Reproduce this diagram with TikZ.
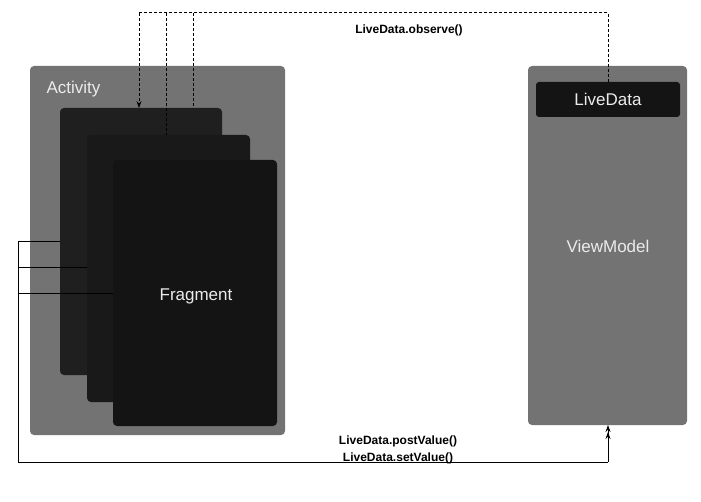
\documentclass[tikz,border=0pt]{standalone}
\usepackage{fontspec}
\setmainfont{Liberation Sans}
\usetikzlibrary{arrows.meta}
\tikzset{mytip/.tip={Stealth[length=7pt,width=5pt]}}
\begin{document}
\begin{tikzpicture}[x=1pt,y=-1pt,
  panel/.style={rounded corners=4pt},
  wtxt/.style={text=white!92!black,font=\fontsize{17}{19}\selectfont},
  lbl/.style={font=\bfseries\fontsize{12}{14}\selectfont},
  obs/.style={densely dashed,line width=1pt},
  cb/.style={line width=1pt}]
\useasboundingbox (0,0) rectangle (701,502);
\fill[panel,fill=black!55] (30,66) rectangle (285,435);
\node[wtxt,anchor=west] (act) at (43,89) {Activity};
\fill[panel,fill=black!88] (60,108) rectangle (222,375);
\fill[panel,fill=black!90] (87,135) rectangle (250,402);
\fill[panel,fill=black!92] (113,160) rectangle (277,426);
\node[wtxt] (frag) at (196,296) {Fragment};
\coordinate (f1) at (139,108);
\coordinate (f2) at (166,135);
\coordinate (f3) at (193,108);
\fill[panel,fill=black!55] (528,66) rectangle (687,425);
\fill[rounded corners=3pt,fill=black!92] (536,82) rectangle (680,117);
\node[wtxt] (ld) at (608,99.5) {LiveData};
\node[wtxt] (vm) at (608,246) {ViewModel};
\coordinate (ldtop) at (608,82);
\coordinate (vmbot) at (608,425);
\draw[obs] (ldtop) -- (608,13) -- (139,13);
\draw[obs,-mytip] (139,13) -- (f1);
\draw[obs] (166,13) -- (f2);
\draw[obs] (193,13) -- (f3);
\node[lbl] (obsl) at (409,30) {LiveData.observe()};
\draw[cb] (60,242) -- (18,242) -- (18,462) -- (608,462);
\draw[cb] (87,268) -- (18,268);
\draw[cb] (113,294) -- (18,294);
\draw[cb,-{mytip[]mytip[]}] (608,462) -- (vmbot);
\node[lbl] (post) at (398,441) {LiveData.postValue()};
\node[lbl] (set) at (398,458) {LiveData.setValue()};
\end{tikzpicture}
\end{document}
